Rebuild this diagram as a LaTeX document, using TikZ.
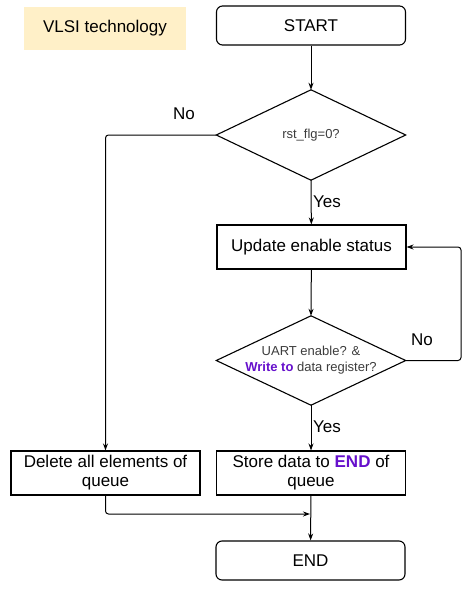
\documentclass[tikz,border=0pt]{standalone}
\usepackage{fontspec}
\setmainfont{Liberation Sans}
\usetikzlibrary{arrows.meta}
\definecolor{notefill}{RGB}{255,240,200}
\definecolor{hilite}{RGB}{102,16,204}
\definecolor{qtext}{RGB}{60,60,60}
\tikzset{
  box/.style={draw,line width=1.1pt,minimum width=189pt,minimum height=44pt,inner sep=1pt,align=center,font=\fontsize{17}{19}\selectfont},
  term/.style={box,rounded corners=6pt,minimum height=39pt},
  decide/.style={inner sep=0pt,minimum width=189pt,minimum height=90pt,align=center,text=qtext,font=\fontsize{13}{16}\selectfont},
  edge/.style={line width=1.1pt,line join=miter},
  lbl/.style={font=\fontsize{17}{19}\selectfont},
  flow/.style={line width=1pt,-{Stealth[length=7pt,width=5pt]},rounded corners=3pt}
}
\begin{document}
\begin{tikzpicture}[x=1pt,y=1pt]
\useasboundingbox (0,0) rectangle (474,-591);
\node[fill=notefill,minimum width=162pt,minimum height=43pt,font=\fontsize{17}{19}\selectfont] (note) at (105,-28.5) {VLSI technology};
\node[term] (start) at (311,-25.5) {START};
\node[decide] (chk) at (311,-135) {rst\_flg=0?};
\draw[edge] (chk.north) -- (chk.east) -- (chk.south) -- (chk.west) -- cycle;
\node[box] (upd) at (311.5,-247) {Update enable status};
\node[decide,minimum height=89pt] (wr) at (311,-360.5) {UART enable? \&\\{\color{hilite}\bfseries Write to} data register?};
\draw[edge] (wr.north) -- (wr.east) -- (wr.south) -- (wr.west) -- cycle;
\node[box] (del) at (105.5,-473) {Delete all elements of\\queue};
\node[box] (store) at (311,-473) {Store data to {\color{hilite}\bfseries END} of\\queue};
\node[term] (stop) at (310.5,-560.5) {END};
\coordinate (loop) at (461,-360.5);
\coordinate (join) at (310,-514);
% connectors
\draw[flow] (start) -- (chk.north);
\draw[flow] (chk.west) -| (del.north);
\draw[flow] (chk.south) -- (upd);
\draw[flow] (upd) -- (wr.north);
\draw[flow] (wr.east) -- (loop) |- (upd.east);
\draw[flow] (wr.south) -- (store);
\draw[flow] (store) -- (stop);
\draw[flow] (del.south) |- (join);
% branch labels
\node[lbl] (no1) at (184,-114) {No};
\node[lbl] (yes1) at (327,-202) {Yes};
\node[lbl] (no2) at (422,-340) {No};
\node[lbl] (yes2) at (327,-427) {Yes};
\end{tikzpicture}
\end{document}
